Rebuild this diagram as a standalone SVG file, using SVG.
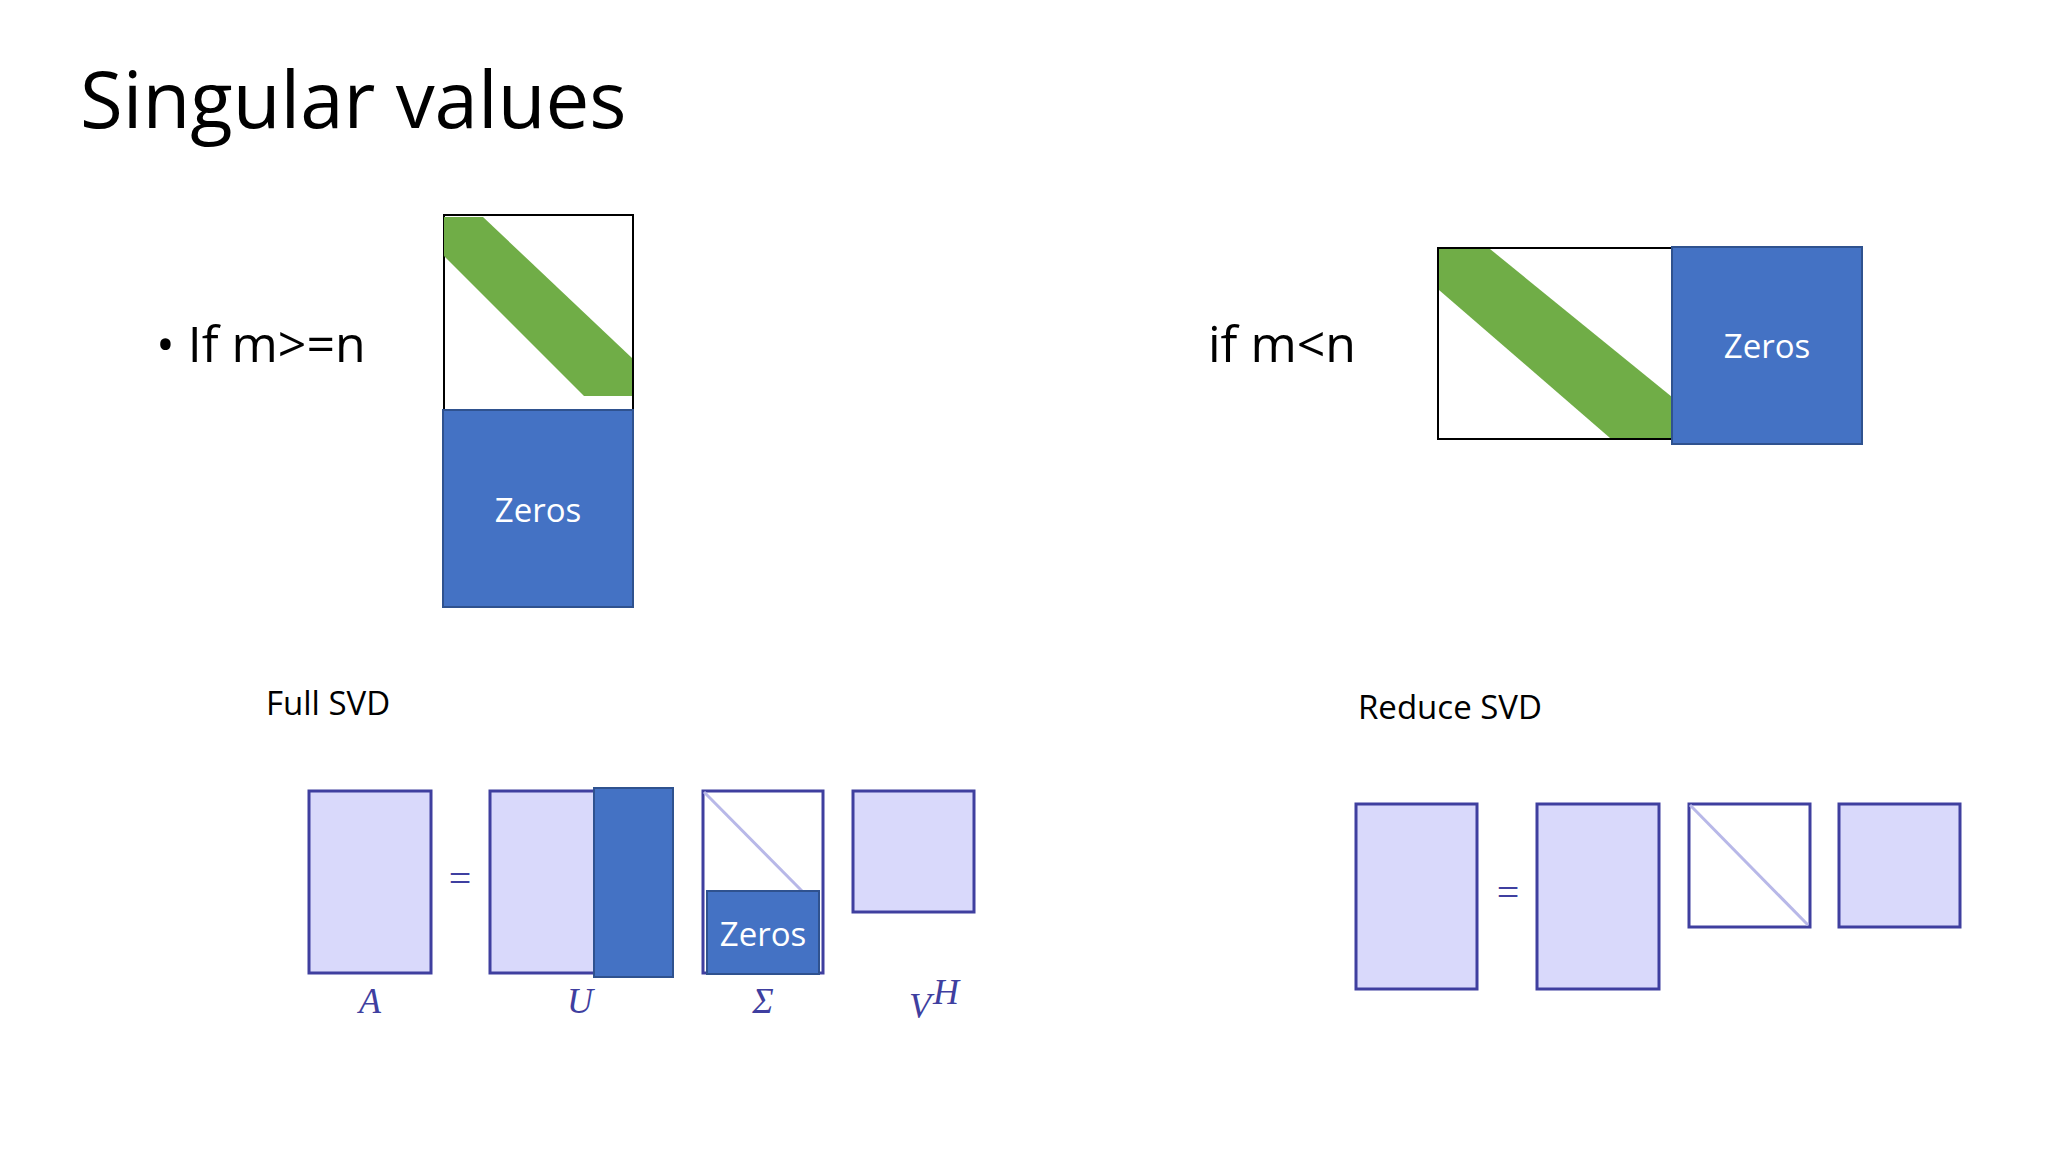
<svg xmlns="http://www.w3.org/2000/svg" width="2048" height="1152" viewBox="0 0 2048 1152">
<style>
.t{font-family:"Open Sans","Liberation Sans",sans-serif;fill:#000}
.z{font-family:"Open Sans","Liberation Sans",sans-serif;fill:#fff;font-size:33px;text-anchor:middle}
.blue{fill:#4472c4;stroke:#2f528f;stroke-width:2}
.green{fill:#70ad47}
.out{fill:none;stroke:#000;stroke-width:2}
.m{fill:#d9d9fb;stroke:#3f3f9f;stroke-width:3}
.mw{fill:#fff;stroke:#3f3f9f;stroke-width:3}
.dg{stroke:#b8b8e8;stroke-width:3}
.lab{font-family:"Liberation Serif",serif;font-style:italic;fill:#3f3fa0;font-size:36px;text-anchor:middle}
</style>
<rect width="2048" height="1152" fill="#fff"/>
<text class="t" x="80" y="128" font-size="78">Singular values</text>
<g id="left-case">
<text class="t" x="156" y="362" font-size="50">• If m&gt;=n</text>
<rect class="out" x="444" y="215" width="189" height="195"/>
<polygon class="green" points="444,217 483,217 632,358 632,396 584,396 444,256"/>
<rect class="blue" x="443" y="410" width="190" height="197"/>
<text class="z" x="538" y="522">Zeros</text>
</g>
<g id="right-case">
<text class="t" x="1208" y="362" font-size="50">if m&lt;n</text>
<rect class="out" x="1438" y="248" width="234" height="191"/>
<polygon class="green" points="1439,249 1490,249 1672,397 1672,438 1610,438 1439,290"/>
<rect class="blue" x="1672" y="247" width="190" height="197"/>
<text class="z" x="1767" y="358">Zeros</text>
</g>
<g id="full-svd">
<text class="t" x="266" y="715" font-size="33">Full SVD</text>
<rect class="m" x="309" y="791" width="122" height="182"/>
<text x="460" y="892" font-family="Liberation Serif,serif" font-size="40" fill="#3f3fa0" text-anchor="middle">=</text>
<rect class="m" x="490" y="791" width="110" height="182"/>
<rect class="blue" x="594" y="788" width="79" height="189"/>
<rect class="mw" x="703" y="791" width="120" height="182"/>
<line class="dg" x1="704" y1="792" x2="802" y2="891"/>
<rect class="blue" x="707" y="891" width="112" height="83"/>
<text class="z" x="763" y="946" font-size="31">Zeros</text>
<rect class="m" x="853" y="791" width="121" height="121"/>
<text class="lab" x="370" y="1013">A</text>
<text class="lab" x="580" y="1013">U</text>
<text class="lab" x="763" y="1013" font-style="normal">Σ</text>
<text class="lab" x="920" y="1018">V</text>
<text class="lab" x="946" y="1004" font-size="26">H</text>
</g>
<g id="reduced-svd">
<text class="t" x="1358" y="719" font-size="33">Reduce SVD</text>
<rect class="m" x="1356" y="804" width="121" height="185"/>
<text x="1508" y="906" font-family="Liberation Serif,serif" font-size="40" fill="#3f3fa0" text-anchor="middle">=</text>
<rect class="m" x="1537" y="804" width="122" height="185"/>
<rect class="mw" x="1689" y="804" width="121" height="123"/>
<line class="dg" x1="1690" y1="805" x2="1808" y2="925"/>
<rect class="m" x="1839" y="804" width="121" height="123"/>
</g>
</svg>
